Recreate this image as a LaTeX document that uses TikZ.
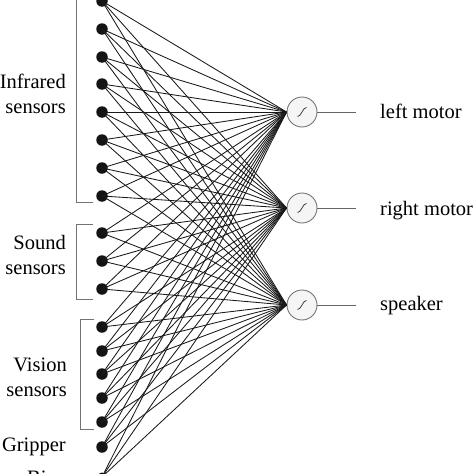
\documentclass[tikz,border=0pt]{standalone}
\usepackage{fontspec}
\setmainfont{Liberation Serif}
\begin{document}
\begin{tikzpicture}[x=1pt,y=1pt,
  inp/.style={circle,fill=black!92,inner sep=0pt,minimum size=11.5pt},
  outn/.style={circle,draw=black!55,fill=blue!4!black!4,line width=0.9pt,inner sep=0pt,minimum size=30pt},
  conn/.style={draw=black!90,line width=0.85pt},
  brk/.style={draw=black!55,line width=0.9pt},
  lbl/.style={font=\fontsize{20.5}{25}\selectfont,inner sep=0pt},
  outline/.style={draw=black!60,line width=0.9pt}]
\useasboundingbox (0,0) rectangle (474,-474);
% input dots
\foreach \i/\y in {1/1,2/29,3/57,4/84,5/112,6/140,7/168,8/196,9/233,10/261,11/289,12/327,13/351,14/374,15/398,16/422,17/447}
  \node[inp] (in\i) at (102,-\y) {};
\node[inp,minimum size=9pt] (in18) at (102,-477) {};
% output neurons
\node[outn] (o1) at (302,-112) {};
\node[outn] (o2) at (302,-208) {};
\node[outn] (o3) at (302,-305) {};
\foreach \o in {o1,o2,o3}
  \draw[black!75,line width=0.8pt] ([shift={(-4.5,-4.5)}]\o.center) .. controls ([shift={(-1,-5)}]\o.center) and ([shift={(1,5)}]\o.center) .. ([shift={(4.5,4.5)}]\o.center);
% connections
\foreach \i in {1,...,18}
  \foreach \o in {o1,o2,o3}
    \draw[conn] (in\i.center) -- (\o.west);
% output lines and labels
\coordinate (e1) at (356,-112);
\coordinate (e2) at (356,-208);
\coordinate (e3) at (356,-305);
\draw[outline] (o1.east) -- (e1);
\draw[outline] (o2.east) -- (e2);
\draw[outline] (o3.east) -- (e3);
\node[lbl,anchor=base west] (l1) at (380,-118) {left motor};
\node[lbl,anchor=base west] (l2) at (380,-215) {right motor};
\node[lbl,anchor=base west] (l3) at (380,-310) {speaker};
% brackets
\draw[brk] (76,2) -- (76,-202) -- (93,-202);
\draw[brk] (93,-224) -- (76,-224) -- (76,-299) -- (93,-299);
\draw[brk] (94,-319) -- (80,-319) -- (80,-429) -- (94,-429);
% group labels
\node[lbl,anchor=base east] (ir1) at (66,-88) {Infrared};
\node[lbl,anchor=base east] (ir2) at (66,-113) {sensors};
\node[lbl,anchor=base east] (so1) at (66,-249) {Sound};
\node[lbl,anchor=base east] (so2) at (66,-274) {sensors};
\node[lbl,anchor=base east] (vi1) at (67,-371) {Vision};
\node[lbl,anchor=base east] (vi2) at (67,-396) {sensors};
\node[lbl,anchor=base east] (gr) at (66,-451) {Gripper};
\node[lbl,anchor=base west] (bi) at (27,-484) {Bias};
\end{tikzpicture}
\end{document}
